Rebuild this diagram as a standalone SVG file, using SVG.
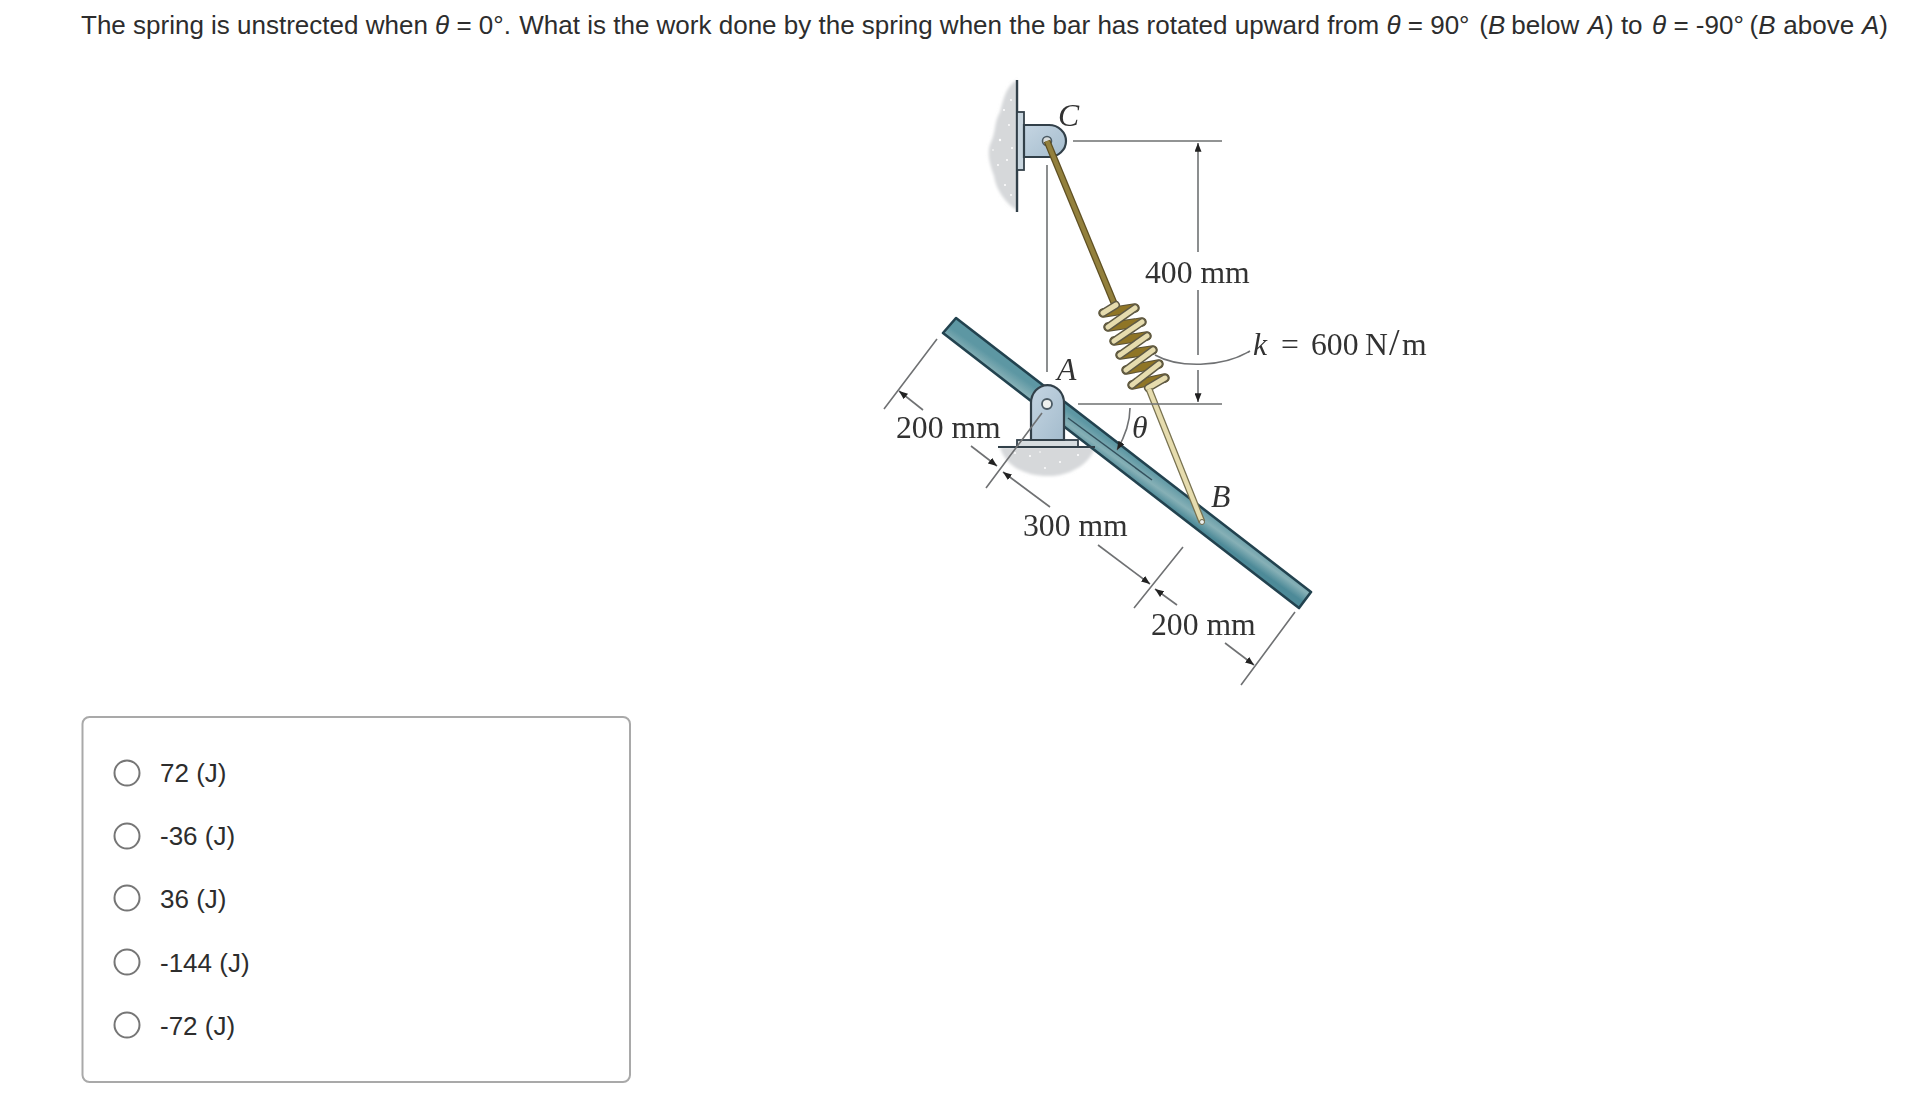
<svg xmlns="http://www.w3.org/2000/svg" width="1930" height="1102" viewBox="0 0 1930 1102">
<style>
.q{font-family:"Liberation Sans",Arial,sans-serif;font-size:26px;fill:#2d2d2d}
.d{font-family:"Liberation Serif","Times New Roman",serif;font-size:31.700px;fill:#333}
.i{font-style:italic}
.dim{fill:none;stroke:#6f7173;stroke-width:1.6}
.radio{fill:#fff;stroke:#767676;stroke-width:2}
.back{fill:none;stroke:#5a5236;stroke-width:9.500;stroke-linecap:round}
.backc{fill:none;stroke:#8f7428;stroke-width:7.500;stroke-linecap:round}
.front{fill:none;stroke:#5f5a44;stroke-width:8;stroke-linecap:round}
.frontc{fill:none;stroke:#e6dcae;stroke-width:5;stroke-linecap:round}
</style>
<defs>
<linearGradient id="barFill" gradientUnits="userSpaceOnUse" x1="1124" y1="450" x2="1112" y2="467">
<stop offset="0" stop-color="#5d97a3"/><stop offset=".55" stop-color="#86b0b6"/><stop offset="1" stop-color="#4d8a98"/>
</linearGradient>
<linearGradient id="steel" x1="0" y1="0" x2="1" y2="1">
<stop offset="0" stop-color="#c5d5e2"/><stop offset="1" stop-color="#a4bccd"/>
</linearGradient>
<marker id="ah" viewBox="0 0 10 8" refX="10" refY="4" markerWidth="9" markerHeight="7" markerUnits="userSpaceOnUse" orient="auto">
<path d="M0 0L10 4L0 8Z" fill="#222"/>
</marker>
<filter id="soft" x="-5%" y="-5%" width="110%" height="110%"><feGaussianBlur stdDeviation="0.55"/></filter>
<filter id="softer" x="-10%" y="-10%" width="120%" height="120%"><feGaussianBlur stdDeviation="1.5"/></filter>
</defs>
<rect width="1930" height="1102" fill="#fff"/>

<g id="question">
<text class="q" x="81" y="34">The spring is unstrected when <tspan class="i">θ</tspan> = 0°. <tspan dx="1.200">What</tspan> is the work done by the spring when the bar has rotated upward from <tspan class="i">θ</tspan> = 90° <tspan dx="2.500">(</tspan><tspan class="i">B</tspan> <tspan dx="-1.200">below</tspan> <tspan class="i" dx="1.200">A</tspan>) to <tspan class="i" dx="2.300">θ</tspan> = -90° <tspan dx="-1.500">(</tspan><tspan class="i">B</tspan> <tspan dx="0.500">above</tspan> <tspan class="i" dx="0.500">A</tspan>)</text>
</g>

<g id="figure" filter="url(#soft)">
<g id="wall">
<path d="M1017 80C1006 86 1003 100 1000 112C994 122 996 132 991 142C986 152 990 165 994 176C996 190 1006 204 1017 210Z" fill="#d6d8da" filter="url(#softer)"/>
<g fill="#fff"><circle cx="1004" cy="110" r="1"/><circle cx="1000" cy="140" r="1.200"/><circle cx="1007" cy="160" r="1"/><circle cx="1009" cy="125" r=".9"/><circle cx="1005" cy="185" r="1"/><circle cx="998" cy="165" r=".9"/><circle cx="1011" cy="100" r=".9"/><circle cx="1012" cy="148" r="1"/><circle cx="1011" cy="195" r=".9"/><circle cx="993" cy="150" r=".8"/></g>
<path d="M1017 80V212" fill="none" stroke="#33414a" stroke-width="2.400"/>
</g>
<g id="ground">
<path d="M1000 447H1095C1090 466 1065 477 1048 476C1025 476 1005 466 1000 447Z" fill="#d6d8da" filter="url(#softer)"/>
<g fill="#fff"><circle cx="1030" cy="456" r="1"/><circle cx="1060" cy="462" r="1"/><circle cx="1045" cy="468" r=".9"/><circle cx="1078" cy="455" r="1"/><circle cx="1015" cy="453" r=".9"/><circle cx="1040" cy="452" r=".8"/></g>
</g>
<g id="bracket-c">
<rect x="1017" y="112" width="7" height="58" fill="#c9d6df" stroke="#33414a" stroke-width="1.800"/>
<path d="M1024 125H1049A17 16 0 0 1 1066 141A17 16 0 0 1 1049 157H1024Z" fill="url(#steel)" stroke="#33414a" stroke-width="2.200"/>
<circle cx="1047" cy="141" r="4.500" fill="#d8dcdc" stroke="#4b5a64" stroke-width="1.600"/>
</g>
<g id="bar">
<polygon points="956,318 943,333 1299,608 1311,592" fill="url(#barFill)" stroke="#24434f" stroke-width="2.600" stroke-linejoin="round"/>
</g>
<g id="bracket-a">
<rect x="1017" y="440" width="61" height="7" fill="#d6dcdf" stroke="#33414a" stroke-width="1.800"/>
<path d="M1031 440V403A16.500 18 0 0 1 1064 403V440Z" fill="url(#steel)" stroke="#33414a" stroke-width="2.200"/>
<circle cx="1047" cy="404" r="5" fill="#eef0ee" stroke="#4b5a64" stroke-width="1.800"/>
<path d="M998 447H1095" fill="none" stroke="#33414a" stroke-width="2"/>
</g>
<g id="spring">
<path d="M1047 141L1114 303" fill="none" stroke="#5e4f22" stroke-width="7"/>
<path d="M1047 141L1114 303" fill="none" stroke="#93803c" stroke-width="4.500"/>
<path class="back" d="M1103 313L1135 308M1108 327L1142 322M1114 341L1147 336M1120 355L1153 350M1126 370L1159 364M1132 385L1165 378"/>
<path class="backc" d="M1103 313L1135 308M1108 327L1142 322M1114 341L1147 336M1120 355L1153 350M1126 370L1159 364M1132 385L1165 378"/>
<path class="front" d="M1103 313L1116 305M1108 327L1135 308M1114 341L1142 322M1120 355L1147 336M1126 370L1153 350M1132 385L1159 364M1148 388L1165 378"/>
<path class="frontc" d="M1103 313L1116 305M1108 327L1135 308M1114 341L1142 322M1120 355L1147 336M1126 370L1153 350M1132 385L1159 364M1148 388L1165 378"/>
<path d="M1149 389L1202 522" fill="none" stroke="#77714f" stroke-width="7"/>
<path d="M1149 389L1202 522" fill="none" stroke="#e6dcae" stroke-width="4.500"/>
<circle cx="1202" cy="522" r="2.500" fill="#eef0ee" stroke="#6b6548" stroke-width="1"/>
</g>
<g id="connectors">
<path class="dim" d="M1047 165V372"/>
<path class="dim" d="M1073 141H1222M1078 404H1222"/>
<path class="dim" d="M1198 252V143" marker-end="url(#ah)"/>
<path class="dim" d="M1198 290V355M1198 370V402" marker-end="url(#ah)"/>
<path class="dim" d="M1155 355C1178 368 1222 368 1250 351"/>
<path class="dim" d="M937 339L884 409M1042 413L986 488M1183 547L1134 608M1295 612L1241 685"/>
<path class="dim" d="M923 410L899 391" marker-end="url(#ah)"/>
<path class="dim" d="M971 446L997 466" marker-end="url(#ah)"/>
<path class="dim" d="M1050 507L1003 472" marker-end="url(#ah)"/>
<path class="dim" d="M1098 545L1150 584" marker-end="url(#ah)"/>
<path class="dim" d="M1177 605L1155 589" marker-end="url(#ah)"/>
<path class="dim" d="M1225 643L1254 665" marker-end="url(#ah)"/>
<path d="M1068 418L1152 480" fill="none" stroke="#33505c" stroke-width="1.500"/>
<path class="dim" d="M1130 408C1130 424 1124 438 1117 450" marker-end="url(#ah)"/>
</g>
<g id="labels">
<text class="d i" x="1058" y="126">C</text>
<text class="d i" x="1057" y="380">A</text>
<text class="d i" x="1211" y="507">B</text>
<text class="d i" x="1132" y="438">θ</text>
<text class="d" x="1145" y="283">400 mm</text>
<text class="d" x="896" y="438">200 mm</text>
<text class="d" x="1023" y="536">300 mm</text>
<text class="d" x="1151" y="635">200 mm</text>
<text class="d" y="355"><tspan class="i" x="1253">k</tspan> <tspan x="1281">=</tspan> <tspan x="1311">600</tspan> <tspan x="1365">N</tspan><tspan x="1389" font-size="38">/</tspan><tspan x="1402">m</tspan></text>
</g>
</g>

<g id="answers">
<rect x="82.500" y="717" width="547.500" height="365" rx="7" fill="#fff" stroke="#a9a9a9" stroke-width="2"/>
<g id="opt1"><circle class="radio" cx="127" cy="773" r="12.500"/><text class="q" x="160" y="782">72 (J)</text></g>
<g id="opt2"><circle class="radio" cx="127" cy="836" r="12.500"/><text class="q" x="160" y="845">-36 (J)</text></g>
<g id="opt3"><circle class="radio" cx="127" cy="898" r="12.500"/><text class="q" x="160" y="908">36 (J)</text></g>
<g id="opt4"><circle class="radio" cx="127" cy="962" r="12.500"/><text class="q" x="160" y="972">-144 (J)</text></g>
<g id="opt5"><circle class="radio" cx="127" cy="1025" r="12.500"/><text class="q" x="160" y="1035">-72 (J)</text></g>
</g>
</svg>
